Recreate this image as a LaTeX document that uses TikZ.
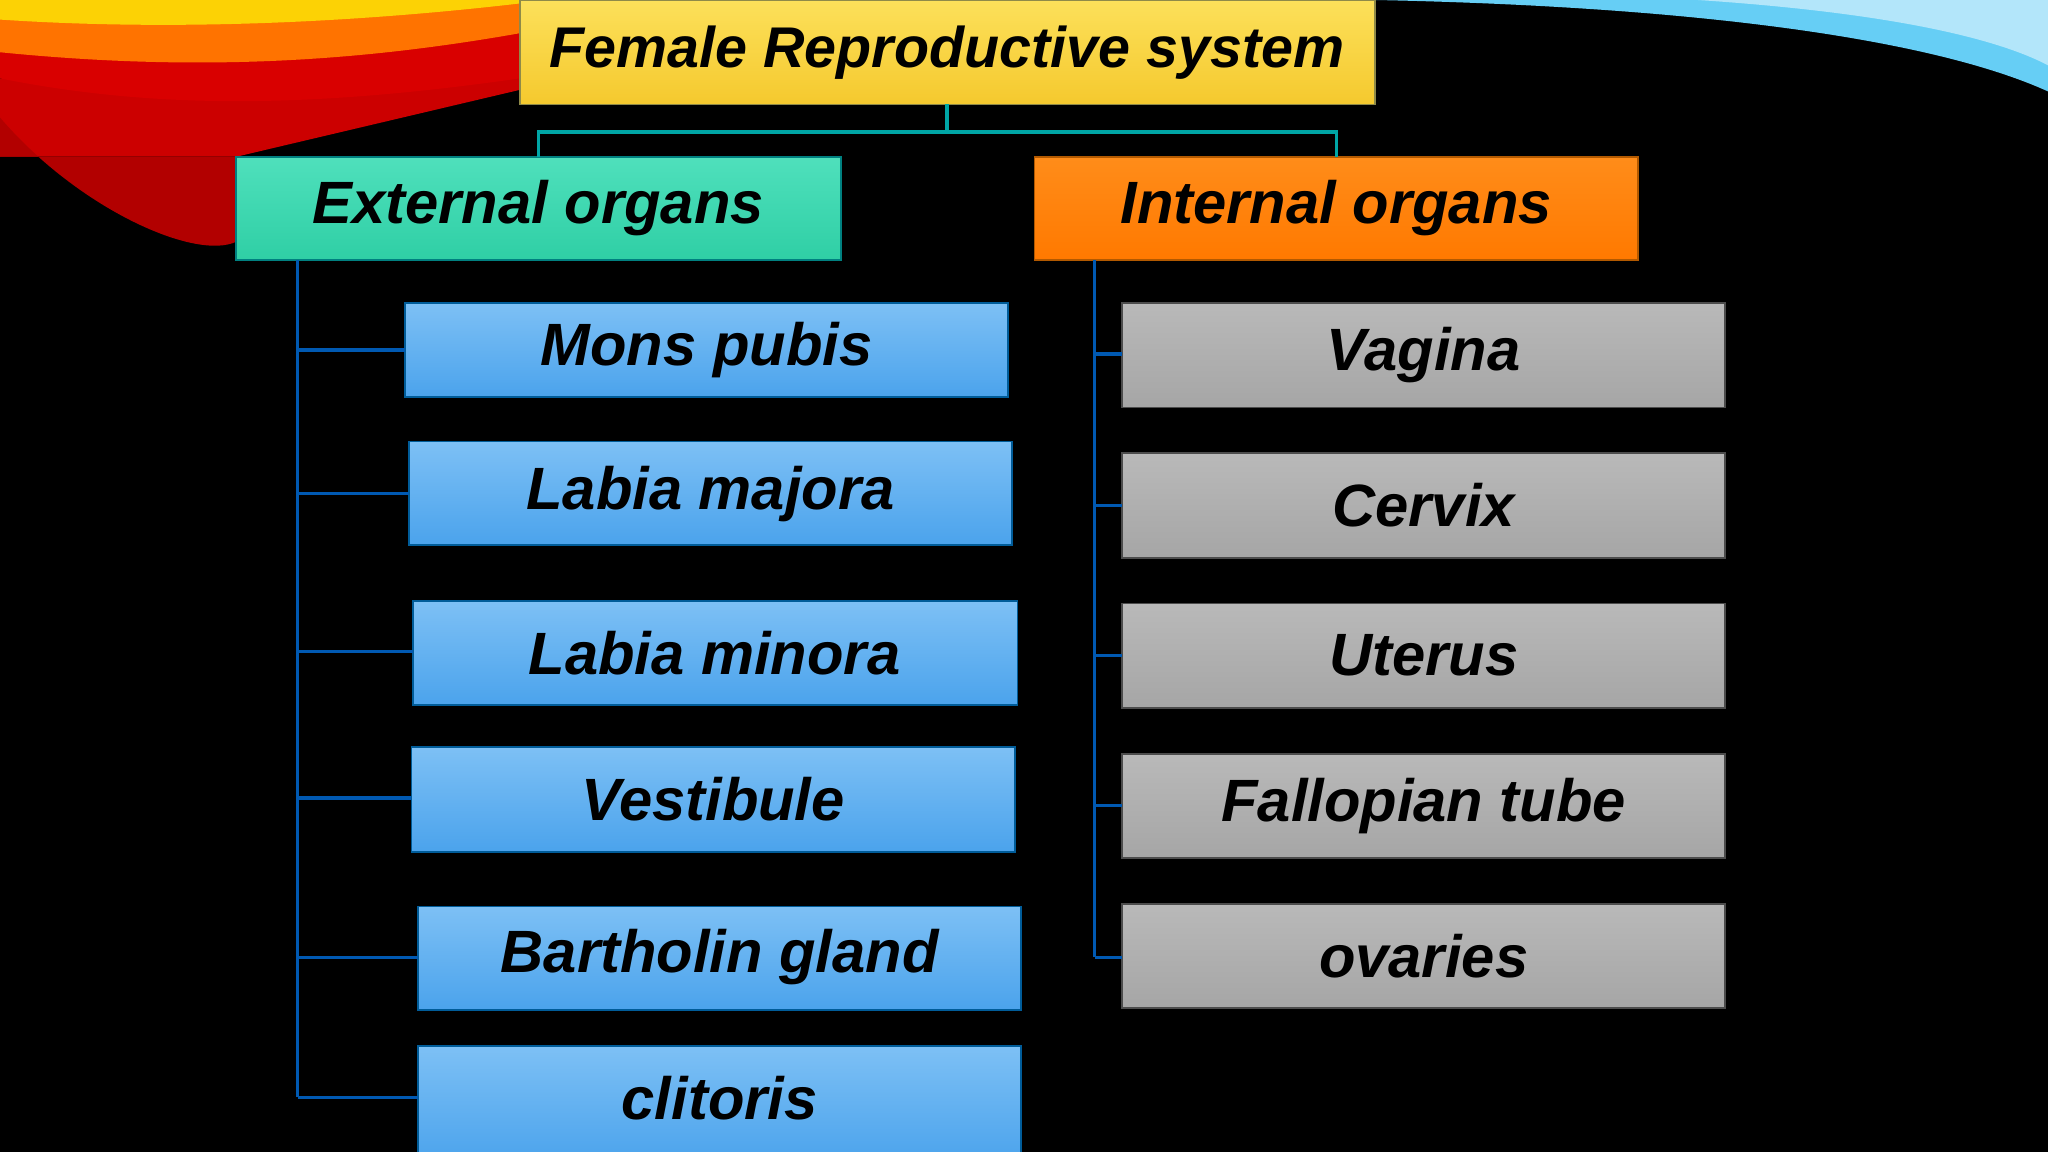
\documentclass[tikz,border=0pt]{standalone}
\usepackage{fontspec}
\setmainfont{Liberation Sans}
\definecolor{bluetop}{HTML}{7DC0F5}
\definecolor{bluebot}{HTML}{4BA3EC}
\definecolor{tealtop}{HTML}{4FE0BC}
\definecolor{tealbot}{HTML}{2FCFA5}
\definecolor{goldtop}{HTML}{FCE05A}
\definecolor{goldbot}{HTML}{F5C92E}
\begin{document}
\begin{tikzpicture}[x=0.01cm,y=-0.01cm,
  lbl/.style={font=\fontsize{13}{15}\selectfont\bfseries\itshape},
  conn/.style={draw=blue!50!cyan!70!black,line width=0.7pt}]
\fill[black] (0,0) rectangle (1568,882);
\useasboundingbox (0,0) rectangle (1568,882);
% decorative swooshes
\fill[red!80!black] (0,60) -- (520,40) -- (181,120) -- (0,120) -- cycle;
\fill[red!85!black] (0,60) .. controls (150,90) and (300,80) .. (520,40) -- (520,0) -- (0,0) -- cycle;
\fill[orange!90!red] (0,40) .. controls (200,60) and (350,40) .. (520,0) -- (0,0) -- cycle;
\fill[yellow!70!orange] (0,15) .. controls (150,25) and (300,15) .. (420,0) -- (0,0) -- cycle;
\fill[red!70!black] (0,90) .. controls (60,160) and (150,200) .. (181,185) -- (181,120) -- (0,120) -- cycle;
\fill[cyan!60!white] (1053,0) .. controls (1300,5) and (1480,30) .. (1568,70) -- (1568,0) -- cycle;
\fill[cyan!30!white] (1300,0) .. controls (1450,10) and (1530,30) .. (1568,50) -- (1568,0) -- cycle;
% title and headers
\path[top color=goldtop,bottom color=goldbot,draw=yellow!50!black] (398,0) rectangle (1053,80);
\node[lbl,font=\fontsize{12.5}{15}\selectfont\bfseries\itshape] (title) at (725,40) {Female Reproductive system};
\coordinate (tb) at (725,80);
\path[top color=tealtop,bottom color=tealbot,draw=teal] (181,120) rectangle (644,199);
\node[lbl] (ext) at (412,159) {External organs};
\path[top color=orange!90,bottom color=orange!95!red,draw=orange!70!black] (792,120) rectangle (1254,199);
\node[lbl] (int) at (1023,159) {Internal organs};
\draw[conn,draw=teal!70!cyan] (tb) -- (725,101) -| (412,120);
\draw[conn,draw=teal!70!cyan] (725,101) -| (1023,120);
% left boxes
\foreach \n/\xa/\ya/\xb/\yb/\t in {m1/310/232/772/304/Mons pubis,m2/313/338/775/417/Labia majora,m3/316/460/779/540/Labia minora,m4/315/572/777/652/Vestibule,m5/320/694/782/773/Bartholin gland,m6/320/801/782/890/clitoris}{
  \path[top color=bluetop,bottom color=bluebot,draw=blue!40!cyan!60!black] (\xa,\ya) rectangle (\xb,\yb);
  \coordinate (\n w) at (\xa,{(\ya+\yb)/2});
}
\node[lbl] (m1) at (541,268) {Mons pubis};
\node[lbl] (m2) at (544,378) {Labia majora};
\node[lbl] (m3) at (547,500) {Labia minora};
\node[lbl] (m4) at (546,612) {Vestibule};
\node[lbl] (m5) at (551,733) {Bartholin gland};
\node[lbl] (m6) at (551,841) {clitoris};
\draw[conn] (228,199) -- (228,840);
\foreach \n/\y in {m1/268,m2/378,m3/499,m4/611,m5/733,m6/840}
  \draw[conn] (228,\y) -- (\n w |- 0,\y);
% right boxes
\foreach \n/\ya/\t in {g1/232/Vagina,g2/347/Cervix,g3/462/Uterus,g4/577/Fallopian tube,g5/692/ovaries}{
  \path[top color=gray!55,bottom color=gray!70,draw=gray!60!black] (859,\ya) rectangle (1321,\ya+80);
  \coordinate (\n w) at (859,\ya+40);
  \node[lbl] (\n) at (1090,\ya+40) {\t};
}
\draw[conn] (838,199) -- (838,733);
\foreach \n/\y in {g1/271,g2/387,g3/502,g4/617,g5/733}
  \draw[conn] (838,\y) -- (\n w |- 0,\y);
\end{tikzpicture}
\end{document}
